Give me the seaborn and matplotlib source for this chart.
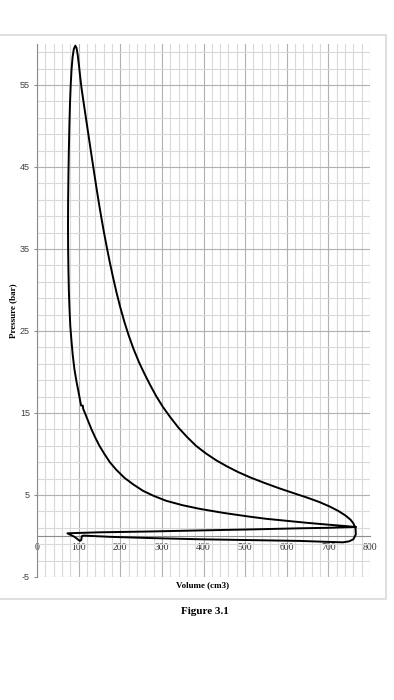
import numpy as np
import pandas as pd
import matplotlib
matplotlib.use("Agg")
import matplotlib.pyplot as plt
from matplotlib.ticker import FixedLocator
from matplotlib.patches import Rectangle
import seaborn as sns

# ---- data (volume in cm3, pressure in bar) ----
compression_vol = [765, 744, 700, 650, 600, 550, 512, 450, 392, 350, 310, 280, 255, 231, 210,
                   190, 175, 162, 150, 140, 131, 123, 116, 111, 110, 106, 104, 100, 95, 90, 86,
                   83, 80, 78, 76.5, 75.5, 74.8, 74.5, 74.8, 75.5, 76.5, 77.8, 79.3, 81, 83,
                   85.5, 88.5, 92]
compression_p = [1.1, 1.2, 1.38, 1.6, 1.85, 2.1, 2.35, 2.8, 3.3, 3.75, 4.3, 4.9, 5.5, 6.3, 7.1,
                 8.1, 9.0, 10.0, 11.0, 12.0, 13.0, 14.0, 14.9, 15.5, 15.9, 15.9, 16.4, 17.5,
                 18.8, 20.3, 22.0, 23.7, 25.6, 27.8, 30.0, 32.5, 35.0, 38.0, 41.0, 44.0, 47.0,
                 50.0, 52.8, 55.0, 56.9, 58.4, 59.4, 59.8]

expansion_vol = [95, 98, 101, 104, 107, 111, 116, 121, 126, 131, 137, 143, 149, 155, 161, 167,
                 174, 182, 191, 200, 210, 220, 232, 245, 258, 272, 287, 303, 320, 340, 360, 382,
                 405, 430, 456, 483, 512, 545, 580, 615, 648, 678, 703, 724, 741, 753, 760, 764]
expansion_p = [59.5, 58.6, 57.3, 55.9, 54.6, 53.2, 51.5, 49.8, 48.1, 46.4, 44.4, 42.4, 40.5,
               38.7, 37.0, 35.4, 33.6, 31.7, 29.7, 27.9, 26.1, 24.5, 22.8, 21.2, 19.8, 18.4,
               17.0, 15.7, 14.5, 13.2, 12.1, 11.0, 10.1, 9.25, 8.5, 7.8, 7.15, 6.5, 5.85,
               5.25, 4.7, 4.15, 3.6, 3.05, 2.5, 2.0, 1.55, 1.1]

exhaust_vol = [700, 632, 512, 392, 271, 150, 73]
exhaust_p = [1.0, 0.94, 0.8, 0.68, 0.55, 0.45, 0.33]

intake_vol = [90, 103, 106, 108, 112, 175, 271, 392, 512, 632, 700, 735, 750, 760, 766, 765]
intake_p = [-0.1, -0.6, -0.5, 0.0, 0.05, -0.1, -0.25, -0.4, -0.5, -0.6, -0.72, -0.77, -0.65,
            -0.4, 0.2, 1.1]

x_ticks = [0, 100, 200, 300, 400, 500, 600, 700, 800]
y_ticks = [-5, 5, 15, 25, 35, 45, 55]

df = pd.DataFrame({
    "Volume": compression_vol + expansion_vol + exhaust_vol + intake_vol,
    "Pressure": compression_p + expansion_p + exhaust_p + intake_p,
})

W, H = 394, 700
fig = plt.figure(figsize=(W / 100, H / 100), dpi=100)
fig.patch.set_facecolor("white")

# outer light frame
fig.patches.append(Rectangle((-0.01, (H - 599) / H), 386 / W + 0.01, (599 - 35) / H,
                             transform=fig.transFigure, fill=False,
                             edgecolor="#d9d9d9", linewidth=1.2, zorder=0))

ax = fig.add_axes([37 / W, (H - 577) / H, (370 - 37) / W, (577 - 44) / H])
ax.set_xlim(0, 800)
ax.set_ylim(-5, 60)

# grid
ax.xaxis.set_major_locator(FixedLocator(x_ticks))
ax.xaxis.set_minor_locator(FixedLocator(np.arange(0, 801, 20)))
ax.yaxis.set_major_locator(FixedLocator(y_ticks))
ax.yaxis.set_minor_locator(FixedLocator(np.arange(-5, 60, 2)))
ax.grid(which="minor", color="#d9d9d9", linewidth=0.8)
ax.grid(which="major", color="#b0b0b0", linewidth=0.8)
ax.set_axisbelow(True)

sns.lineplot(data=df, x="Volume", y="Pressure", sort=False, estimator=None,
             color="black", linewidth=1.4, ax=ax, zorder=5)
for ln in ax.lines:
    ln.set_solid_joinstyle("round")

for s in ["top", "right"]:
    ax.spines[s].set_visible(False)
ax.spines["bottom"].set_position(("data", 0))
ax.spines["bottom"].set_color("#8c8c8c")
ax.spines["bottom"].set_linewidth(0.8)
ax.spines["left"].set_color("#8c8c8c")
ax.spines["left"].set_linewidth(0.8)

ax.set_xticklabels([str(v) for v in x_ticks], fontfamily="Liberation Serif", fontsize=7,
                   color="#333333")
ax.set_yticklabels([str(v) for v in y_ticks], fontfamily="Liberation Sans", fontsize=6.5,
                   color="#404040")
ax.tick_params(axis="x", which="both", length=0, pad=5)
ax.tick_params(axis="y", which="major", length=2.5, color="#8c8c8c", pad=2.5)
ax.tick_params(axis="y", which="minor", length=0)
ax.set_xlabel("")
ax.set_ylabel("")

fig.text(203 / W, 1 - 585 / H, "Volume (cm3)", ha="center", va="center",
         fontfamily="Liberation Serif", fontweight="bold", fontsize=6.5)
fig.text(13 / W, 1 - 311 / H, "Pressure (bar)", ha="center", va="center", rotation=90,
         fontfamily="Liberation Serif", fontweight="bold", fontsize=6.5)
fig.text(205 / W, 1 - 611 / H, "Figure 3.1", ha="center", va="center",
         fontfamily="Liberation Serif", fontweight="bold", fontsize=8)

fig.savefig("out.png", dpi=100, facecolor="white")
